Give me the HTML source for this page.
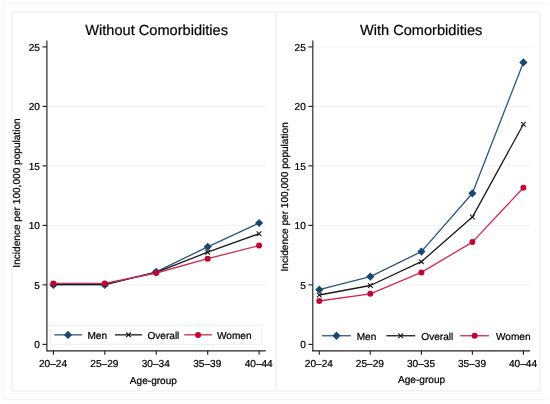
<!DOCTYPE html>
<html><head><meta charset="utf-8"><title>Incidence by age-group</title>
<style>
html,body{margin:0;padding:0;background:#fff;}
svg{display:block;text-rendering:geometricPrecision}
.t{font-family:"Liberation Sans",sans-serif;font-size:10.1px;fill:#000;stroke:#000;stroke-width:0.22px;}
.title{font-family:"Liberation Sans",sans-serif;font-size:14.6px;fill:#000;stroke:#000;stroke-width:0.2px;}
</style></head><body>
<svg width="550" height="404" viewBox="0 0 550 404">
<rect width="550" height="404" fill="#fff"/>
<path d="M547.3 3.6H3.4V399.4H547.3" fill="none" stroke="#f1f6f7" stroke-width="1.5"/>
<rect x="11.8" y="12.2" width="264.2" height="378.6" fill="none" stroke="#eff4f6" stroke-width="1.6"/>
<rect x="276" y="12.2" width="263.8" height="378.6" fill="none" stroke="#eff4f6" stroke-width="1.6"/>
<line x1="46.9" y1="284.9" x2="265.7" y2="284.9" stroke="#ebf2f4" stroke-width="1"/>
<line x1="46.9" y1="225.4" x2="265.7" y2="225.4" stroke="#ebf2f4" stroke-width="1"/>
<line x1="46.9" y1="165.9" x2="265.7" y2="165.9" stroke="#ebf2f4" stroke-width="1"/>
<line x1="46.9" y1="106.4" x2="265.7" y2="106.4" stroke="#ebf2f4" stroke-width="1"/>
<rect x="50.3" y="325.3" width="211.5" height="19" fill="#fff" stroke="#e6eff0" stroke-width="1"/>
<line x1="46.9" y1="40.6" x2="46.9" y2="351.35" stroke="#222" stroke-width="1.15"/>
<line x1="46.4" y1="350.8" x2="265.7" y2="350.8" stroke="#222" stroke-width="1.15"/>
<line x1="42.5" y1="344.4" x2="46.9" y2="344.4" stroke="#222" stroke-width="1.15"/>
<text x="39.9" y="348.35" text-anchor="end" class="t">0</text>
<line x1="42.5" y1="284.9" x2="46.9" y2="284.9" stroke="#222" stroke-width="1.15"/>
<text x="39.9" y="288.85" text-anchor="end" class="t">5</text>
<line x1="42.5" y1="225.4" x2="46.9" y2="225.4" stroke="#222" stroke-width="1.15"/>
<text x="39.9" y="229.35" text-anchor="end" class="t">10</text>
<line x1="42.5" y1="165.9" x2="46.9" y2="165.9" stroke="#222" stroke-width="1.15"/>
<text x="39.9" y="169.85" text-anchor="end" class="t">15</text>
<line x1="42.5" y1="106.4" x2="46.9" y2="106.4" stroke="#222" stroke-width="1.15"/>
<text x="39.9" y="110.35" text-anchor="end" class="t">20</text>
<line x1="42.5" y1="46.9" x2="46.9" y2="46.9" stroke="#222" stroke-width="1.15"/>
<text x="39.9" y="50.85" text-anchor="end" class="t">25</text>
<line x1="53.4" y1="350.8" x2="53.4" y2="354.8" stroke="#222" stroke-width="1.15"/>
<text x="53.0" y="366.5" text-anchor="middle" class="t">20–24</text>
<line x1="104.8" y1="350.8" x2="104.8" y2="354.8" stroke="#222" stroke-width="1.15"/>
<text x="104.4" y="366.5" text-anchor="middle" class="t">25–29</text>
<line x1="156.2" y1="350.8" x2="156.2" y2="354.8" stroke="#222" stroke-width="1.15"/>
<text x="155.8" y="366.5" text-anchor="middle" class="t">30–34</text>
<line x1="207.7" y1="350.8" x2="207.7" y2="354.8" stroke="#222" stroke-width="1.15"/>
<text x="207.3" y="366.5" text-anchor="middle" class="t">35–39</text>
<line x1="259.1" y1="350.8" x2="259.1" y2="354.8" stroke="#222" stroke-width="1.15"/>
<text x="258.7" y="366.5" text-anchor="middle" class="t">40–44</text>
<text x="153.4" y="384.2" text-anchor="middle" class="t">Age-group</text>
<text transform="translate(20.2,193.0) rotate(-90)" text-anchor="middle" class="t">Incidence per 100,000 population</text>
<text x="156.6" y="35.3" text-anchor="middle" class="title">Without Comorbidities</text>
<polyline points="53.4,284.9 104.8,284.9 156.2,271.8 207.7,246.8 259.1,223.0" fill="none" stroke="#2a5580" stroke-width="1.3" stroke-linejoin="round"/>
<path d="M53.4 280.8L57.5 284.9L53.4 289.0L49.3 284.9Z" fill="#1a476f"/>
<path d="M104.8 280.8L108.9 284.9L104.8 289.0L100.7 284.9Z" fill="#1a476f"/>
<path d="M156.2 267.7L160.3 271.8L156.2 275.9L152.1 271.8Z" fill="#1a476f"/>
<path d="M207.7 242.7L211.8 246.8L207.7 250.9L203.6 246.8Z" fill="#1a476f"/>
<path d="M259.1 218.9L263.2 223.0L259.1 227.1L255.0 223.0Z" fill="#1a476f"/>
<polyline points="53.4,284.3 104.8,284.3 156.2,272.4 207.7,252.2 259.1,233.7" fill="none" stroke="#1a1a1a" stroke-width="1.3" stroke-linejoin="round"/>
<path d="M51.0 282.0L55.8 286.7M51.0 286.7L55.8 282.0" stroke="#1a1a1a" stroke-width="1.1" fill="none"/>
<path d="M102.5 282.0L107.2 286.7M102.5 286.7L107.2 282.0" stroke="#1a1a1a" stroke-width="1.1" fill="none"/>
<path d="M153.9 270.1L158.6 274.8M153.9 274.8L158.6 270.1" stroke="#1a1a1a" stroke-width="1.1" fill="none"/>
<path d="M205.3 249.8L210.0 254.5M205.3 254.5L210.0 249.8" stroke="#1a1a1a" stroke-width="1.1" fill="none"/>
<path d="M256.7 231.4L261.4 236.1M256.7 236.1L261.4 231.4" stroke="#1a1a1a" stroke-width="1.1" fill="none"/>
<polyline points="53.4,283.4 104.8,283.4 156.2,273.0 207.7,258.7 259.1,245.6" fill="none" stroke="#cf2a52" stroke-width="1.3" stroke-linejoin="round"/>
<circle cx="53.4" cy="283.4" r="3.0" fill="#c10534"/>
<circle cx="104.8" cy="283.4" r="3.0" fill="#c10534"/>
<circle cx="156.2" cy="273.0" r="3.0" fill="#c10534"/>
<circle cx="207.7" cy="258.7" r="3.0" fill="#c10534"/>
<circle cx="259.1" cy="245.6" r="3.0" fill="#c10534"/>
<line x1="54.4" y1="334.85" x2="81.9" y2="334.85" stroke="#2a5580" stroke-width="1.3"/>
<path d="M68.0 330.8L72.1 334.9L68.0 339.0L63.9 334.9Z" fill="#1a476f"/>
<text x="87.4" y="338.55" class="t">Men</text>
<line x1="115.0" y1="334.85" x2="141.9" y2="334.85" stroke="#1a1a1a" stroke-width="1.3"/>
<path d="M126.2 332.5L130.8 337.2M126.2 337.2L130.8 332.5" stroke="#1a1a1a" stroke-width="1.1" fill="none"/>
<text x="147.4" y="338.55" class="t">Overall</text>
<line x1="184.3" y1="334.85" x2="211.9" y2="334.85" stroke="#cf2a52" stroke-width="1.3"/>
<circle cx="198.1" cy="334.9" r="3.0" fill="#c10534"/>
<text x="217.0" y="338.55" class="t">Women</text>
<line x1="312.8" y1="284.9" x2="530.0" y2="284.9" stroke="#ebf2f4" stroke-width="1"/>
<line x1="312.8" y1="225.4" x2="530.0" y2="225.4" stroke="#ebf2f4" stroke-width="1"/>
<line x1="312.8" y1="165.9" x2="530.0" y2="165.9" stroke="#ebf2f4" stroke-width="1"/>
<line x1="312.8" y1="106.4" x2="530.0" y2="106.4" stroke="#ebf2f4" stroke-width="1"/>
<line x1="312.8" y1="46.9" x2="530.0" y2="46.9" stroke="#ebf2f4" stroke-width="1"/>
<line x1="312.8" y1="40.6" x2="312.8" y2="351.35" stroke="#222" stroke-width="1.15"/>
<line x1="312.2" y1="350.8" x2="530.0" y2="350.8" stroke="#222" stroke-width="1.15"/>
<line x1="308.4" y1="344.4" x2="312.8" y2="344.4" stroke="#222" stroke-width="1.15"/>
<text x="305.8" y="348.35" text-anchor="end" class="t">0</text>
<line x1="308.4" y1="284.9" x2="312.8" y2="284.9" stroke="#222" stroke-width="1.15"/>
<text x="305.8" y="288.85" text-anchor="end" class="t">5</text>
<line x1="308.4" y1="225.4" x2="312.8" y2="225.4" stroke="#222" stroke-width="1.15"/>
<text x="305.8" y="229.35" text-anchor="end" class="t">10</text>
<line x1="308.4" y1="165.9" x2="312.8" y2="165.9" stroke="#222" stroke-width="1.15"/>
<text x="305.8" y="169.85" text-anchor="end" class="t">15</text>
<line x1="308.4" y1="106.4" x2="312.8" y2="106.4" stroke="#222" stroke-width="1.15"/>
<text x="305.8" y="110.35" text-anchor="end" class="t">20</text>
<line x1="308.4" y1="46.9" x2="312.8" y2="46.9" stroke="#222" stroke-width="1.15"/>
<text x="305.8" y="50.85" text-anchor="end" class="t">25</text>
<line x1="319.3" y1="350.8" x2="319.3" y2="354.8" stroke="#222" stroke-width="1.15"/>
<text x="318.9" y="366.5" text-anchor="middle" class="t">20–24</text>
<line x1="370.3" y1="350.8" x2="370.3" y2="354.8" stroke="#222" stroke-width="1.15"/>
<text x="369.9" y="366.5" text-anchor="middle" class="t">25–29</text>
<line x1="421.4" y1="350.8" x2="421.4" y2="354.8" stroke="#222" stroke-width="1.15"/>
<text x="421.0" y="366.5" text-anchor="middle" class="t">30–35</text>
<line x1="472.4" y1="350.8" x2="472.4" y2="354.8" stroke="#222" stroke-width="1.15"/>
<text x="472.0" y="366.5" text-anchor="middle" class="t">35–39</text>
<line x1="523.4" y1="350.8" x2="523.4" y2="354.8" stroke="#222" stroke-width="1.15"/>
<text x="523.0" y="366.5" text-anchor="middle" class="t">40–44</text>
<text x="421.6" y="382.7" text-anchor="middle" class="t">Age-group</text>
<text transform="translate(288.0,196.9) rotate(-90)" text-anchor="middle" class="t">Incidence per 100,000 population</text>
<text x="421.2" y="35.3" text-anchor="middle" class="title">With Comorbidities</text>
<polyline points="319.3,289.7 370.3,276.6 421.4,251.6 472.4,193.3 523.4,62.4" fill="none" stroke="#2a5580" stroke-width="1.3" stroke-linejoin="round"/>
<path d="M319.3 285.6L323.4 289.7L319.3 293.8L315.2 289.7Z" fill="#1a476f"/>
<path d="M370.3 272.5L374.4 276.6L370.3 280.7L366.2 276.6Z" fill="#1a476f"/>
<path d="M421.4 247.5L425.5 251.6L421.4 255.7L417.3 251.6Z" fill="#1a476f"/>
<path d="M472.4 189.2L476.5 193.3L472.4 197.4L468.3 193.3Z" fill="#1a476f"/>
<path d="M523.4 58.3L527.5 62.4L523.4 66.5L519.3 62.4Z" fill="#1a476f"/>
<polyline points="319.3,295.0 370.3,285.5 421.4,261.7 472.4,217.1 523.4,124.2" fill="none" stroke="#1a1a1a" stroke-width="1.3" stroke-linejoin="round"/>
<path d="M316.9 292.7L321.6 297.4M316.9 297.4L321.6 292.7" stroke="#1a1a1a" stroke-width="1.1" fill="none"/>
<path d="M368.0 283.1L372.7 287.8M368.0 287.8L372.7 283.1" stroke="#1a1a1a" stroke-width="1.1" fill="none"/>
<path d="M419.0 259.3L423.7 264.0M419.0 264.0L423.7 259.3" stroke="#1a1a1a" stroke-width="1.1" fill="none"/>
<path d="M470.0 214.7L474.7 219.4M470.0 219.4L474.7 214.7" stroke="#1a1a1a" stroke-width="1.1" fill="none"/>
<path d="M521.1 121.9L525.8 126.6M521.1 126.6L525.8 121.9" stroke="#1a1a1a" stroke-width="1.1" fill="none"/>
<polyline points="319.3,301.0 370.3,293.8 421.4,272.4 472.4,242.1 523.4,187.7" fill="none" stroke="#cf2a52" stroke-width="1.3" stroke-linejoin="round"/>
<circle cx="319.3" cy="301.0" r="3.0" fill="#c10534"/>
<circle cx="370.3" cy="293.8" r="3.0" fill="#c10534"/>
<circle cx="421.4" cy="272.4" r="3.0" fill="#c10534"/>
<circle cx="472.4" cy="242.1" r="3.0" fill="#c10534"/>
<circle cx="523.4" cy="187.7" r="3.0" fill="#c10534"/>
<line x1="322.0" y1="335.75" x2="350.8" y2="335.75" stroke="#2a5580" stroke-width="1.3"/>
<path d="M336.5 331.6L340.6 335.8L336.5 339.9L332.4 335.8Z" fill="#1a476f"/>
<text x="356.7" y="339.95" class="t">Men</text>
<line x1="386.4" y1="335.75" x2="415.2" y2="335.75" stroke="#1a1a1a" stroke-width="1.3"/>
<path d="M398.3 333.4L403.1 338.1M398.3 338.1L403.1 333.4" stroke="#1a1a1a" stroke-width="1.1" fill="none"/>
<text x="421.3" y="339.95" class="t">Overall</text>
<line x1="460.2" y1="335.75" x2="489.0" y2="335.75" stroke="#cf2a52" stroke-width="1.3"/>
<circle cx="474.6" cy="335.8" r="3.0" fill="#c10534"/>
<text x="496.0" y="339.95" class="t">Women</text>
</svg>
</body></html>
